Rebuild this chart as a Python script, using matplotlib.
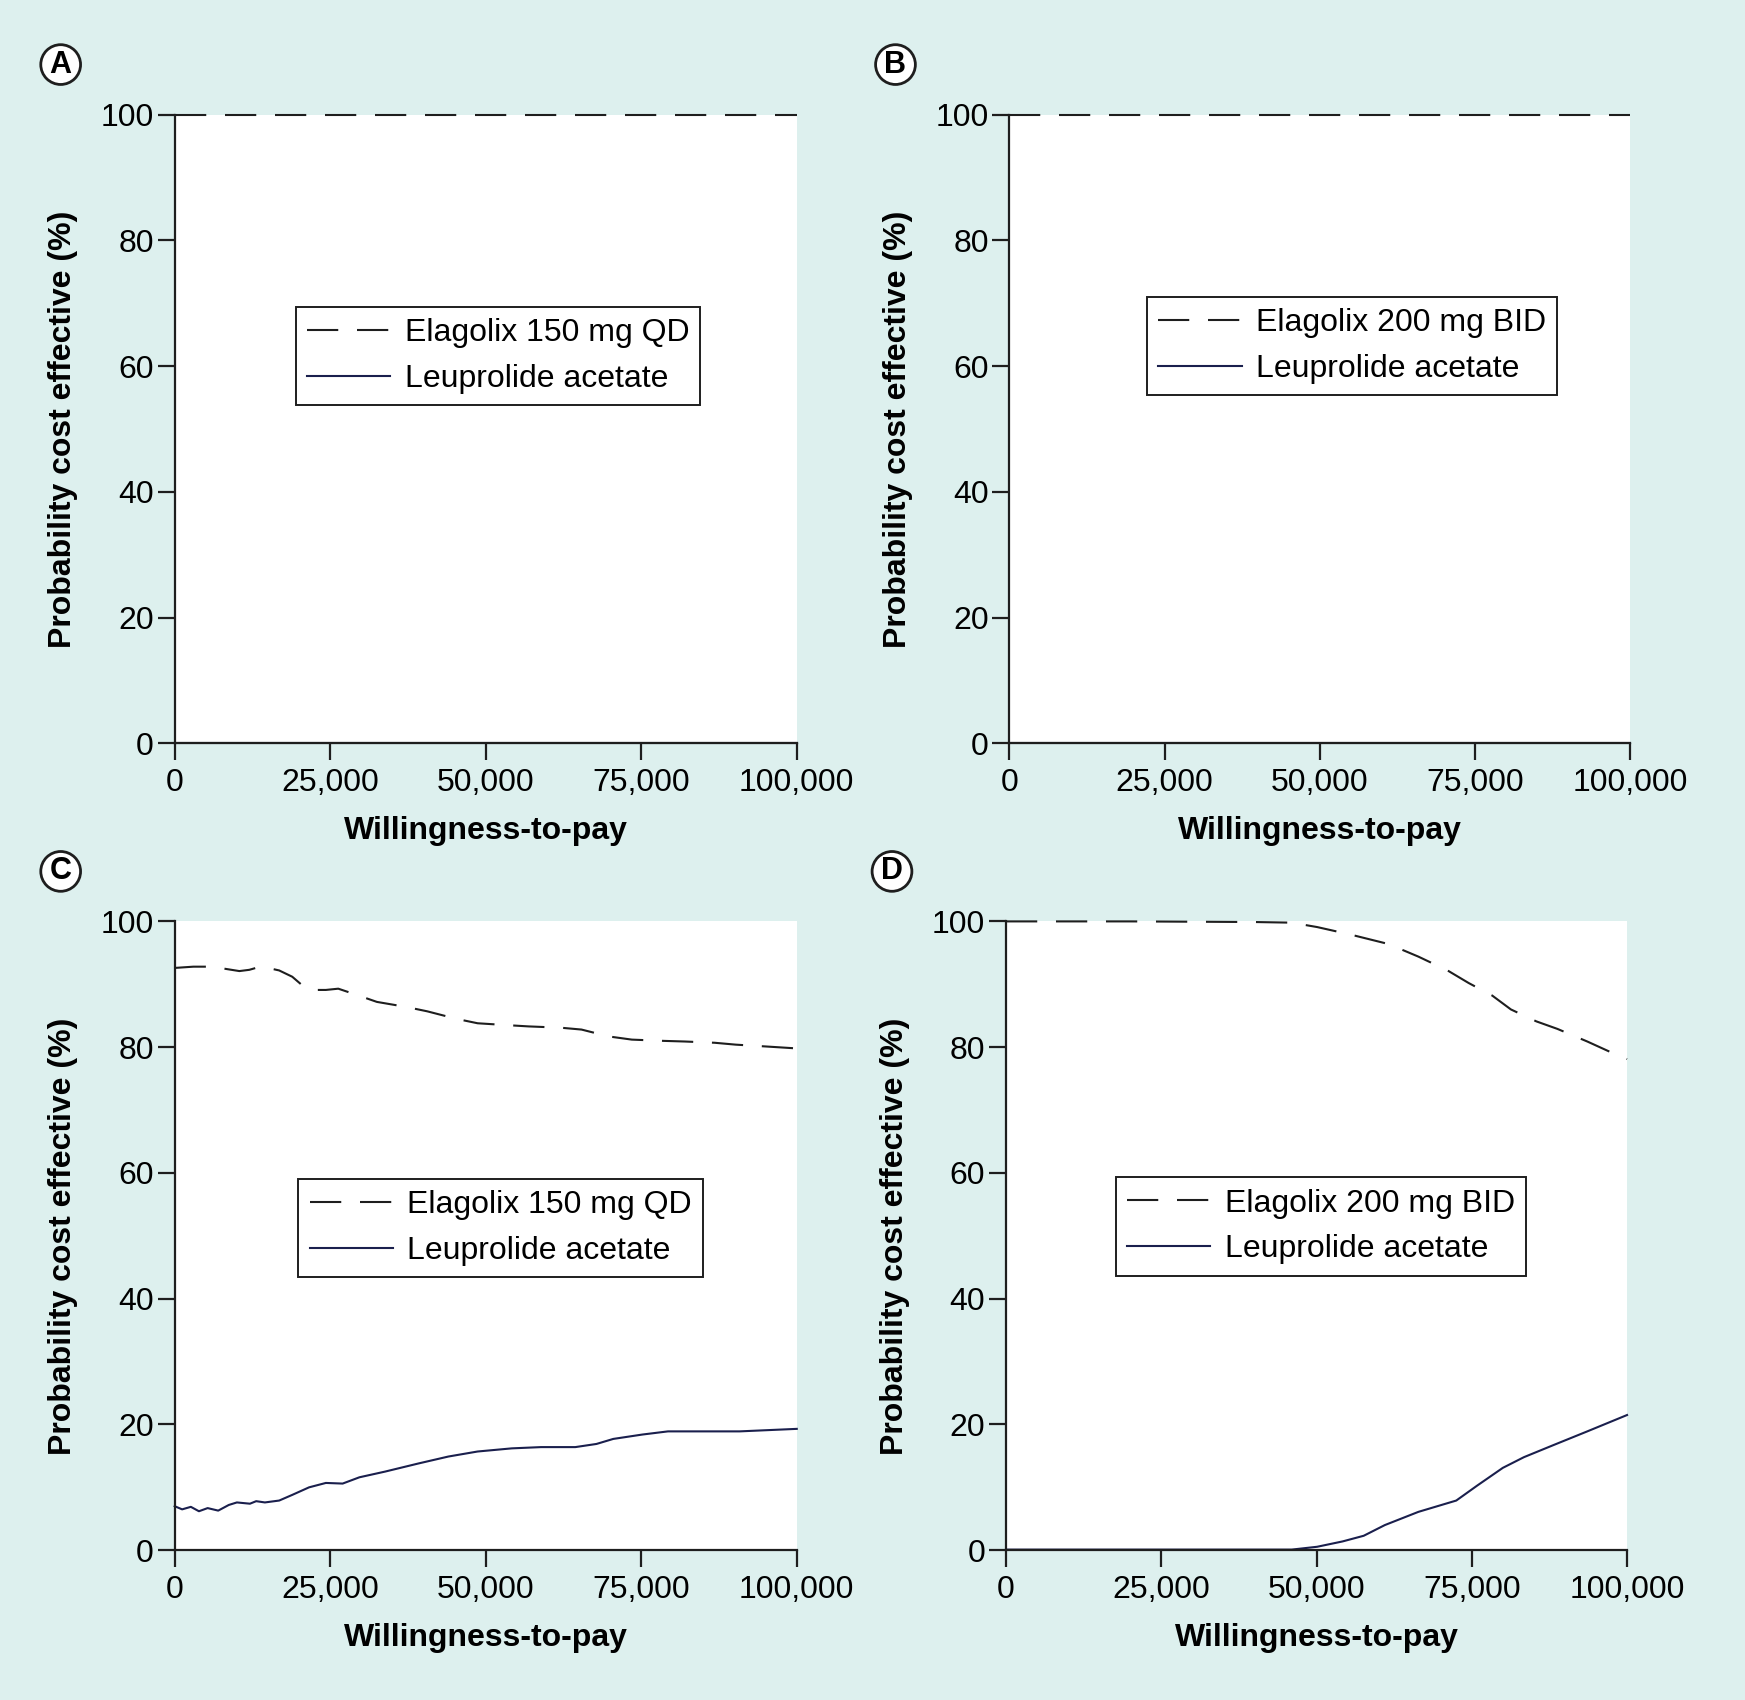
import matplotlib
matplotlib.use("Agg")
import matplotlib.pyplot as plt

plt.rcParams['font.family'] = ['Liberation Sans', 'DejaVu Sans']

# data (WTP in $, probability in %)
wtp_flat = [0, 25000, 50000, 75000, 100000]
a_elagolix = [100, 100, 100, 100, 100]
a_leuprolide = [0, 0, 0, 0, 0]
b_elagolix = [100, 100, 100, 100, 100]
b_leuprolide = [0, 0, 0, 0, 0]

c_x_ela = [0, 3000, 6000, 8500, 10400, 12000, 13400, 15000, 16800, 18900, 20900, 22500, 24300,
           26300, 29000, 32500, 37200, 40600, 45300, 48700, 53500, 56900, 62000, 65400, 69800,
           73500, 78600, 82000, 86800, 90200, 95200, 100000]
c_elagolix = [92.6, 92.8, 92.8, 92.4, 92.1, 92.3, 92.7, 92.6, 92.2, 91.2, 89.5, 89.1, 89.1,
              89.3, 88.4, 87.2, 86.4, 85.7, 84.5, 83.8, 83.5, 83.3, 83.1, 82.8, 81.7,
              81.2, 81.0, 80.9, 80.7, 80.4, 80.1, 79.8]
c_x_leu = [0, 1200, 2600, 3900, 5300, 7000, 8700, 10000, 12100, 13100, 14500, 16800, 18900,
           21600, 24300, 27000, 29700, 33800, 39200, 44000, 48700, 54200, 58900, 64400, 67800,
           70500, 75200, 79300, 84000, 90800, 100000]
c_leuprolide = [7.0, 6.5, 6.9, 6.2, 6.7, 6.3, 7.2, 7.6, 7.4, 7.8, 7.6, 7.9, 8.8,
                10.0, 10.7, 10.6, 11.6, 12.5, 13.8, 14.9, 15.7, 16.2, 16.4, 16.4, 16.9,
                17.7, 18.4, 18.9, 18.9, 18.9, 19.3]

d_x_ela = [0, 20000, 40000, 46000, 50100, 55500, 61600, 66400, 71100, 74500, 78300, 81300,
           85400, 88800, 93600, 97600, 100000]
d_elagolix = [100, 100, 99.9, 99.8, 99.1, 97.9, 96.4, 94.4, 92.2, 90.2, 88.2, 86.0,
              84.1, 82.9, 80.9, 79.1, 78.1]
d_x_leu = [0, 20000, 40000, 46000, 50100, 54200, 57600, 61000, 66400, 72500, 75900, 80000,
           83400, 88100, 93600, 100000]
d_leuprolide = [0.1, 0.1, 0.1, 0.1, 0.55, 1.4, 2.3, 4.0, 6.1, 7.9, 10.3, 13.1,
                14.8, 16.7, 18.9, 21.5]

xticks = [0, 25000, 50000, 75000, 100000]
xtick_labels = ['0', '25,000', '50,000', '75,000', '100,000']
yticks = [0, 20, 40, 60, 80, 100]

panels = [
    ('A', [0.1001, 0.5627, 0.3565, 0.3699], wtp_flat, a_elagolix, wtp_flat, a_leuprolide,
     'Elagolix 150 mg QD', (0.195, 0.694)),
    ('B', [0.5785, 0.5627, 0.3558, 0.3699], wtp_flat, b_elagolix, wtp_flat, b_leuprolide,
     'Elagolix 200 mg BID', (0.222, 0.71)),
    ('C', [0.1001, 0.0881, 0.3565, 0.3699], c_x_ela, c_elagolix, c_x_leu, c_leuprolide,
     'Elagolix 150 mg QD', (0.199, 0.591)),
    ('D', [0.5765, 0.0881, 0.3559, 0.3699], d_x_ela, d_elagolix, d_x_leu, d_leuprolide,
     'Elagolix 200 mg BID', (0.177, 0.593)),
]

bg = '#ddf0ee'
fs = 23
fig = plt.figure(figsize=(17.45, 17.0), dpi=100, facecolor=bg)

for letter, pos, xe, ye, xl, yl, ela_name, leg_pos in panels:
    ax = fig.add_axes(pos)
    ax.set_facecolor('white')
    ax.plot(xe, ye, color='#1e1e1e', lw=1.5, ls=(0, (15, 9)), label=ela_name, clip_on=False)
    ax.plot(xl, yl, color='#1a1f4d', lw=1.5, label='Leuprolide acetate', clip_on=False)
    ax.set_xlim(0, 100000)
    ax.set_ylim(0, 100)
    ax.set_xticks(xticks)
    ax.set_xticklabels(xtick_labels)
    ax.set_yticks(yticks)
    for s in ['top', 'right']:
        ax.spines[s].set_visible(False)
    for s in ['left', 'bottom']:
        ax.spines[s].set_linewidth(1.6)
        ax.spines[s].set_color('#1e1e1e')
    ax.tick_params(direction='out', length=12, width=1.6, labelsize=fs, pad=3, color='#1e1e1e')
    ax.tick_params(axis='x', pad=6)
    ax.set_xlabel('Willingness-to-pay', fontsize=fs, fontweight='bold', labelpad=13)
    ax.set_ylabel('Probability cost effective (%)', fontsize=fs, fontweight='bold', labelpad=16)
    leg = ax.legend(loc='upper left', bbox_to_anchor=leg_pos, borderaxespad=0, fontsize=fs,
                    fancybox=False, framealpha=1, edgecolor='#1e1e1e', handlelength=2.6,
                    borderpad=0.35, labelspacing=0.5, handletextpad=0.45)
    leg.get_frame().set_linewidth(1.4)
    # circled panel letter
    fx = pos[0] - 114 / 1745
    fy = pos[1] + pos[3] + 50 / 1700
    fig.text(fx, fy, letter, fontsize=22, fontweight='bold', ha='center', va='center',
             bbox=dict(boxstyle='circle,pad=0.16', fc='white', ec='#1e1e1e', lw=2))

fig.savefig('out.png', dpi=100, facecolor=bg)
